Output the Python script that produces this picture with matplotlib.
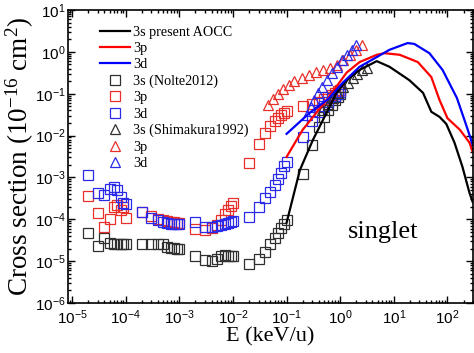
# -- BIBLIOTECAS --
import matplotlib
matplotlib.use("Agg")
import matplotlib.pyplot as plt
from matplotlib.ticker import LogLocator, NullFormatter

# -- DADOS --
# AOCC (linhas)
E_3s = [0.1, 0.177, 0.31, 0.51, 0.85, 1.32, 2.3, 4.8, 8.3, 19.5, 35, 50, 71, 95, 135, 190, 257, 295]
cs_3s = [8.3e-5, 1.5e-3, 7.9e-3, 0.028, 0.105, 0.21, 0.37, 0.60, 0.44, 0.21, 0.105, 0.037, 0.028, 0.019,
         6.8e-3, 1.8e-3, 4.3e-4, 2.6e-4]
E_3p = [0.1, 0.2, 0.56, 1.32, 2.3, 4.8, 6.7, 12.9, 28, 50, 71, 100, 170, 257, 295]
cs_3p = [3.1e-3, 0.0138, 0.071, 0.32, 0.57, 0.85, 0.93, 0.85, 0.57, 0.25, 0.071, 0.026, 0.0138, 6.8e-3, 4.1e-3]
E_3d = [0.1, 0.27, 0.6, 1.1, 2.3, 4.8, 8.3, 18, 24, 46, 81, 150, 230, 295]
cs_3d = [0.011, 0.035, 0.075, 0.18, 0.44, 0.75, 1.12, 1.62, 1.55, 0.93, 0.37, 0.079, 0.016, 6e-3]

# Nolte2012 (quadrados)
E_nolte = [2e-5, 3e-5, 4e-5, 5e-5, 6e-5, 7e-5, 8e-5, 9e-5, 1e-4,
           2e-4, 3e-4, 4e-4, 5e-4, 6e-4, 7e-4, 8e-4, 9e-4, 1e-3,
           2e-3, 3e-3, 4e-3, 5e-3, 6e-3, 7e-3, 8e-3, 9e-3, 1e-2,
           2e-2, 3e-2, 4e-2, 5e-2, 6e-2, 7e-2, 8e-2, 9e-2, 1e-1,
           0.2, 0.3, 0.4, 0.5, 0.6, 0.7, 0.8, 0.9, 1.0]
nolte_3s = [4.8e-5, 2.35e-5, 3.6e-5, 2.7e-5, 2.6e-5, 2.5e-5, 2.5e-5, 2.5e-5, 2.5e-5,
            2.5e-5, 2.6e-5, 2.6e-5, 2.5e-5, 2.2e-5, 2.1e-5, 2.1e-5, 1.95e-5, 1.95e-5,
            1.3e-5, 1.07e-5, 1.02e-5, 1.15e-5, 1.3e-5, 1.4e-5, 1.35e-5, 1.3e-5, 1.3e-5,
            8.7e-6, 1.15e-5, 1.7e-5, 2.5e-5, 3.6e-5, 4.8e-5, 6.3e-5, 7.8e-5, 9.7e-5,
            1.2e-3, 6e-3, 0.016, 0.028, 0.041, 0.055, 0.07, 0.083, 0.1]
nolte_3p = [3.6e-4, 1.4e-4, 6.6e-5, 1.0e-4, 2.0e-4, 2.2e-4, 1.7e-4, 2.0e-4, 1.1e-4,
            1.5e-4, 1.2e-4, 1.0e-4, 9.8e-5, 9.3e-5, 8.8e-5, 8.8e-5, 8.3e-5, 8.3e-5,
            5.9e-5, 5.6e-5, 6.3e-5, 7.4e-5, 9.8e-5, 1.35e-4, 1.7e-4, 2.1e-4, 2.5e-4,
            2.2e-3, 6.3e-3, 1.15e-2, 1.7e-2, 2.2e-2, 2.6e-2, 3.1e-2, 3.5e-2, 3.9e-2,
            0.051, 0.057, 0.065, 0.075, 0.085, 0.095, 0.105, 0.115, 0.125]
nolte_3d = [1.15e-3, 4.3e-4, 3.9e-4, 5.4e-4, 6.0e-4, 5.0e-4, 3.5e-4, 2.5e-4, 2.3e-4,
            1.5e-4, 1.1e-4, 9.8e-5, 8.7e-5, 8.3e-5, 7.8e-5, 7.8e-5, 7.8e-5, 7.8e-5,
            8.7e-5, 6.6e-5, 6.6e-5, 7.0e-5, 7.4e-5, 7.8e-5, 8.3e-5, 8.7e-5, 9.1e-5,
            1.15e-4, 2.0e-4, 3.3e-4, 4.5e-4, 6.7e-4, 9.3e-4, 1.3e-3, 1.9e-3, 2.4e-3,
            9.3e-3, 0.022, 0.037, 0.051, 0.065, 0.078, 0.09, 0.1, 0.11]

# Shimakura1992 (triangulos)
E_shim_3s = [0.45, 0.58, 0.72, 0.90, 1.11, 1.38, 1.71, 2.1, 2.6, 3.1]
shim_3s = [0.041, 0.057, 0.079, 0.105, 0.145, 0.18, 0.24, 0.30, 0.37, 0.41]
E_shim_3p = [0.045, 0.055, 0.069, 0.085, 0.11, 0.14, 0.19, 0.26, 0.35, 0.47, 0.64, 0.86, 1.11, 1.5, 2.0, 2.6]
shim_3p = [0.054, 0.075, 0.099, 0.13, 0.16, 0.20, 0.24, 0.28, 0.33, 0.37, 0.41, 0.49, 0.64, 0.84, 1.1, 1.46]
E_shim_3d = [0.24, 0.28, 0.33, 0.38, 0.45, 0.56, 0.70, 0.86, 1.07, 1.32, 1.64, 2.0]
shim_3d = [0.031, 0.048, 0.071, 0.104, 0.145, 0.21, 0.31, 0.44, 0.64, 0.84, 1.1, 1.46]

# ticks principais (decadas)
x_ticks = [1e-5, 1e-4, 1e-3, 1e-2, 1e-1, 1e0, 1e1, 1e2]
y_ticks = [1e-6, 1e-5, 1e-4, 1e-3, 1e-2, 1e-1, 1e0, 1e1]

# -- VISUALIZACAO --
plt.rcParams['font.family'] = ['Liberation Serif', 'DejaVu Serif']
plt.rcParams['mathtext.fontset'] = 'custom'
plt.rcParams['mathtext.rm'] = 'Liberation Serif'
plt.rcParams['mathtext.it'] = 'Liberation Serif:italic'
plt.rcParams['mathtext.default'] = 'rm'

fig = plt.figure(figsize=(4.74, 3.53), dpi=100)
ax = fig.add_axes([0.1435, 0.1416, 0.8545, 0.8301])

mk = dict(linestyle='none', markerfacecolor='none', markersize=6.5, markeredgewidth=0.9)
h4, = ax.plot(E_nolte, nolte_3s, 's', color='#303030', label='3s (Nolte2012)', **mk)
h5, = ax.plot(E_nolte, nolte_3p, 's', color='#e8302a', label='3p', **mk)
h6, = ax.plot(E_nolte, nolte_3d, 's', color='#2a2ae8', label='3d', **mk)
h7, = ax.plot(E_shim_3s, shim_3s, '^', color='#303030', label='3s (Shimakura1992)', **mk)
h8, = ax.plot(E_shim_3p, shim_3p, '^', color='#e8302a', label='3p', **mk)
h9, = ax.plot(E_shim_3d, shim_3d, '^', color='#2a2ae8', label='3d', **mk)
h1, = ax.plot(E_3s, cs_3s, color='black', lw=1.6, label='3s present AOCC')
h2, = ax.plot(E_3p, cs_3p, color='red', lw=1.6, label='3p')
h3, = ax.plot(E_3d, cs_3d, color='blue', lw=1.6, label='3d')

ax.set_xscale('log'); ax.set_yscale('log')
ax.set_xticks(x_ticks); ax.set_yticks(y_ticks)
ax.xaxis.set_minor_locator(LogLocator(base=10, subs=range(2, 10), numticks=20))
ax.yaxis.set_minor_locator(LogLocator(base=10, subs=range(2, 10), numticks=20))
ax.xaxis.set_minor_formatter(NullFormatter()); ax.yaxis.set_minor_formatter(NullFormatter())
ax.set_xlim(8.4e-6, 300); ax.set_ylim(1e-6, 10)

ax.tick_params(which='both', direction='in', top=True, right=True, width=1)
ax.tick_params(which='major', length=5)
ax.tick_params(which='minor', length=2.5)
ax.tick_params(axis='y', which='major', pad=1.5)
ax.tick_params(axis='x', which='major', pad=4)
for lab in ax.get_xticklabels() + ax.get_yticklabels():
    lab.set_family(['Liberation Sans', 'DejaVu Sans'])
    lab.set_fontsize(11)
for sp in ax.spines.values():
    sp.set_linewidth(1.2)

ax.set_xlabel('E (keV/u)', fontsize=16, labelpad=0)
ax.set_ylabel(r'Cross section (10$^{-16}$ cm$^{2}$)', fontsize=19.5)
ax.yaxis.set_label_coords(-0.08, 0.5)

ax.text(6.2, 5e-5, 'singlet', fontsize=19, ha='center', va='center')

ax.legend(handles=[h1, h2, h3, h4, h5, h6, h7, h8, h9], loc='upper left',
          bbox_to_anchor=(0.079, 0.946), frameon=False, fontsize=10.2,
          handlelength=2.1, handletextpad=0.25, labelspacing=0.23,
          borderaxespad=0, borderpad=0)

plt.savefig('out.png', dpi=100)
